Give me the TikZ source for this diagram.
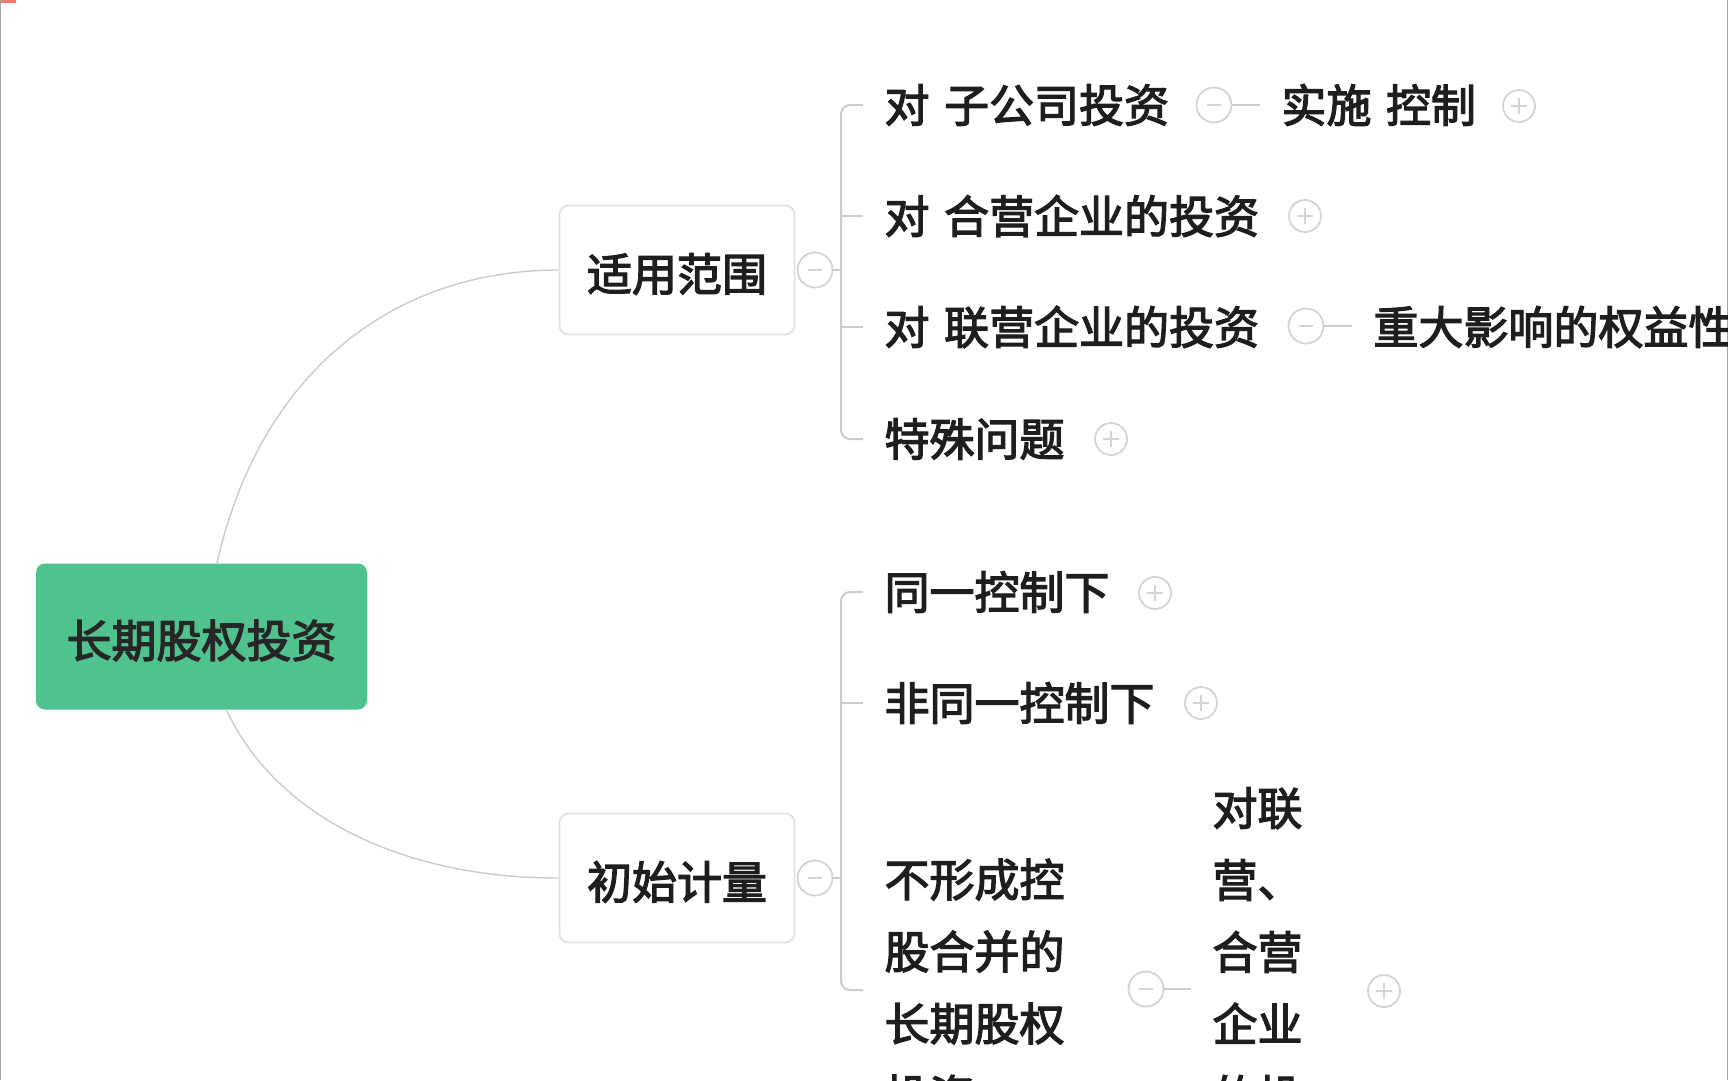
\documentclass[tikz,border=0pt]{standalone}
\usepackage{fontspec}
\usepackage{xcolor}
\setmainfont{Noto Sans CJK SC}[FakeBold=2.8,WordSpace=1.45]
\usetikzlibrary{calc,shapes}
\definecolor{maingreen}{HTML}{4FC28D}
\definecolor{linkgray}{HTML}{CCCCCC}
\definecolor{boxgray}{HTML}{E2E2E2}
\definecolor{togglegray}{HTML}{D4D4D4}
\definecolor{inkgray}{HTML}{1E1E1E}
\tikzset{
  mainbox/.style={fill=maingreen,rounded corners=9,minimum width=331,minimum height=146,inner sep=0,text=black!85,text height=47,text depth=5},
  topicbox/.style={draw=boxgray,line width=1.8,fill=white,rounded corners=9,minimum width=235,minimum height=129,inner sep=0,text=inkgray,text height=47,text depth=5},
  leaftext/.style={anchor=west,inner xsep=21.5,inner ysep=0,outer sep=0,align=left,text=inkgray},
  curveline/.style={draw=linkgray,line width=1.4},
  linkline/.style={draw=linkgray,line width=2},
  togglebase/.style={circle,draw=togglegray,line width=1.8,fill=white,minimum size=35,inner sep=0,outer sep=0},
  minusbox/.style={togglebase,path picture={
    \draw[togglegray,line width=1.8] ([xshift=-7]path picture bounding box.center) -- ([xshift=7]path picture bounding box.center);}},
  plusbox/.style={togglebase,minimum size=32,path picture={
    \draw[togglegray,line width=1.8] ([xshift=-8]path picture bounding box.center) -- ([xshift=8]path picture bounding box.center);
    \draw[togglegray,line width=1.8] ([yshift=-8]path picture bounding box.center) -- ([yshift=8]path picture bounding box.center);}}
}
\begin{document}
\begin{tikzpicture}[x=1pt,y=-1pt,font=\fontsize{45}{72}\selectfont]
\clip (0,0) rectangle (1728,1080);
\fill[white] (0,0) rectangle (1728,1080);
\fill[red!55!white] (0,0) rectangle (16,3);
\draw[gray!70,line width=1.5] (0.7,0) -- (0.7,1080);
\draw[gray!70,line width=1.5] (1727.3,0) -- (1727.3,1080);

\node[mainbox] (main) at (201.5,636.5) {长期股权投资};

\node[topicbox] (scope) at (677,270) {适用范围};
\node[topicbox] (measure) at (677,878) {初始计量};

\coordinate (mainup) at (217,563);
\coordinate (maindown) at (226,709);
\draw[curveline] (mainup) .. controls (262,365) and (400,270) .. (scope.west);
\draw[curveline] (maindown) .. controls (275,815) and (400,878) .. (measure.west);

\node[minusbox] (scopetoggle) at (815,270) {};
\node[minusbox] (measuretoggle) at (815,878) {};
\coordinate (scopespine) at (841,270);
\coordinate (measurespine) at (841,878);

\node[leaftext] (subsidiary) at (863,105) {对 子公司投资};
\node[leaftext] (jointco) at (863,216) {对 合营企业的投资};
\node[leaftext] (associate) at (863,327) {对 联营企业的投资};
\node[leaftext] (special) at (863,439) {特殊问题};

\draw[linkline] (scopetoggle.east) -- (scopespine);
\draw[linkline,rounded corners=9] (subsidiary.west) -| (scopespine);
\draw[linkline,rounded corners=9] (special.west) -| (scopespine);
\draw[linkline] (jointco.west) -- (jointco.west -| scopespine);
\draw[linkline] (associate.west) -- (associate.west -| scopespine);

\node[minusbox] (subsidiarytoggle) at (1214,105) {};
\node[leaftext] (control) at (1260,105) {实施 控制};
\node[plusbox] (controlplus) at (1519,106) {};
\draw[linkline] (subsidiarytoggle.east) -- (control.west);

\node[plusbox] (jointplus) at (1305,216) {};

\node[minusbox] (associatetoggle) at (1306,326) {};
\node[leaftext] (influence) at (1352,327) {重大影响的权益性};
\draw[linkline] (associatetoggle.east) -- (associatetoggle.east -| influence.west);

\node[plusbox] (specialplus) at (1111,439) {};

\node[leaftext] (samectrl) at (863,592) {同一控制下};
\node[plusbox] (sameplus) at (1155,593) {};
\node[leaftext] (diffctrl) at (863,703) {非同一控制下};
\node[plusbox] (diffplus) at (1201,703) {};
\node[leaftext] (nocontrol) at (863,987.5) {不形成控\\股合并的\\长期股权\\投资};
\coordinate (nocontrolstub) at (863,990);

\draw[linkline] (measuretoggle.east) -- (measurespine);
\draw[linkline,rounded corners=9] (samectrl.west) -| (measurespine);
\draw[linkline,rounded corners=9] (nocontrolstub) -| (measurespine);
\draw[linkline] (diffctrl.west) -- (diffctrl.west -| measurespine);

\node[minusbox] (nocontroltoggle) at (1146,989) {};
\node[leaftext] (assocjoint) at (1191,988) {对联\\营、\\合营\\企业\\的投\\资};
\node[plusbox] (assocplus) at (1384,991) {};
\draw[linkline] (nocontroltoggle.east) -- (nocontroltoggle.east -| assocjoint.west);

\end{tikzpicture}
\end{document}
